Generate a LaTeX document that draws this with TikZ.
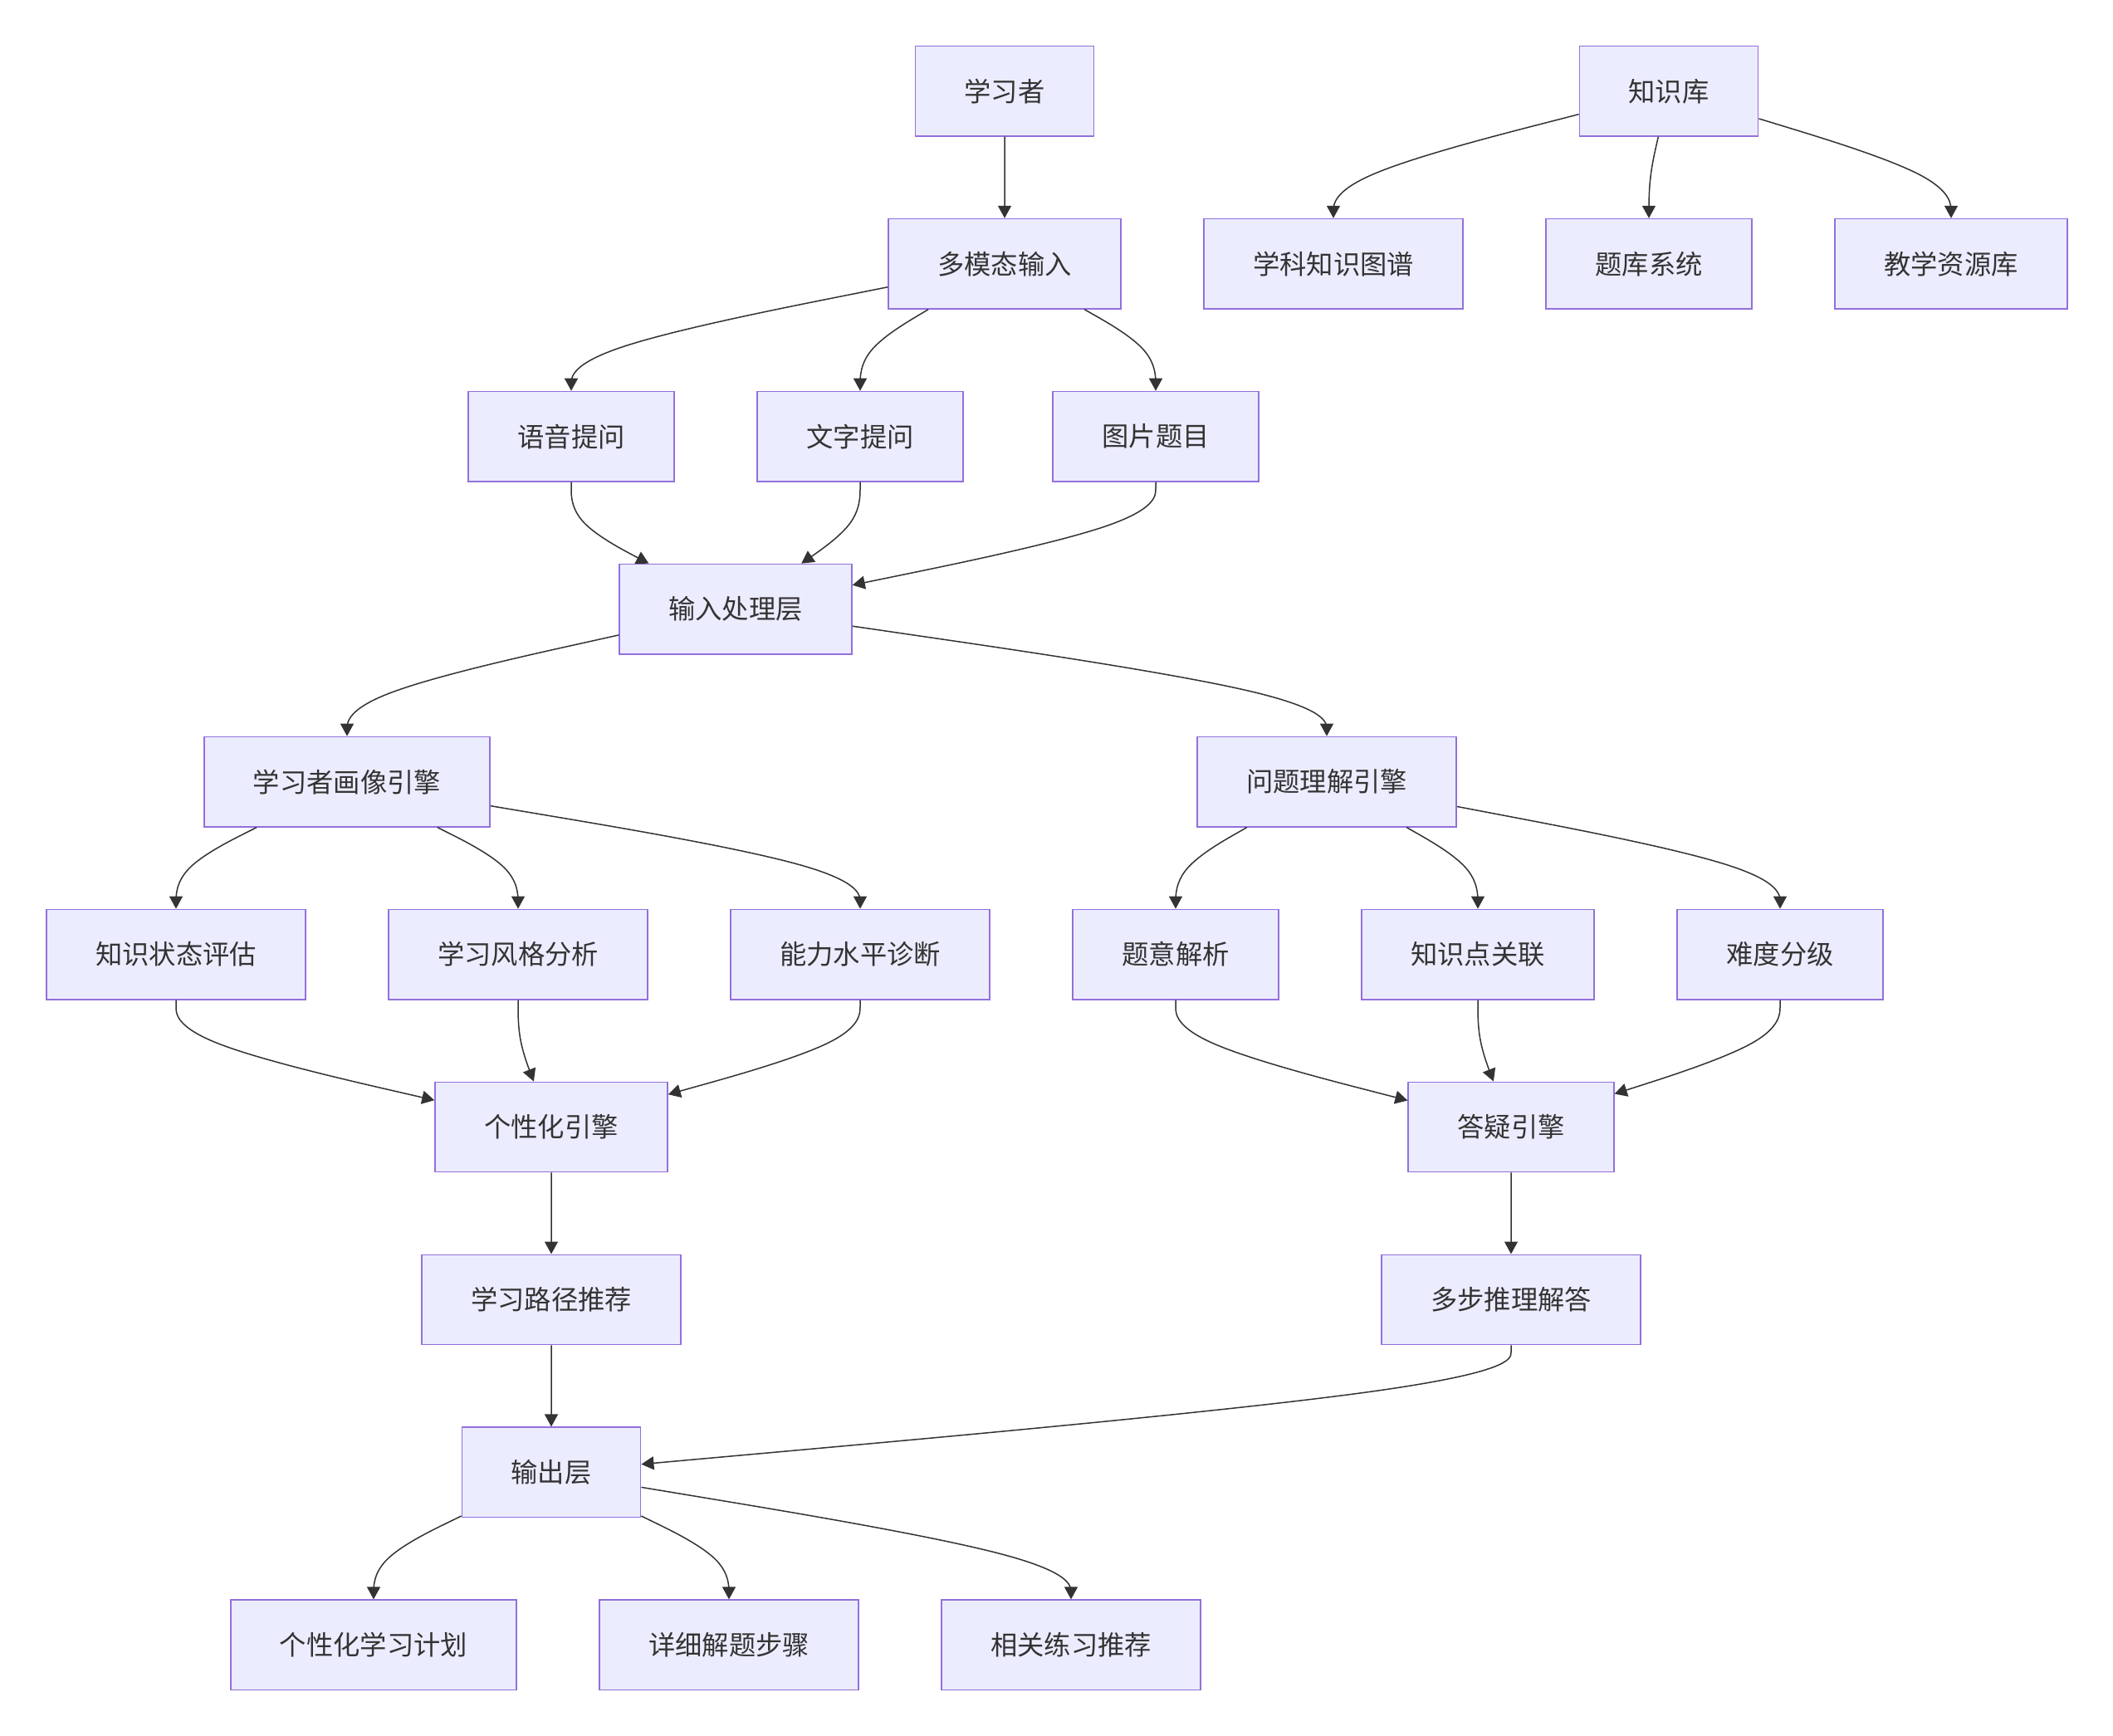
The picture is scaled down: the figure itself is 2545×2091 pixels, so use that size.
\documentclass[tikz,border=0pt]{standalone}
\usepackage{fontspec}
\newfontfamily\cjk{Noto Sans CJK SC}
\usetikzlibrary{arrows.meta,calc}
\definecolor{nodefill}{HTML}{ECECFF}
\definecolor{nodeline}{HTML}{9370DB}
\definecolor{edgecol}{HTML}{333333}
\definecolor{txtcol}{HTML}{333333}
\tikzset{
  box/.style={draw=nodeline, fill=nodefill, line width=0.8pt, minimum height=54.15pt,
    inner xsep=29.6pt, inner ysep=0pt, text=txtcol,
    font=\cjk\fontsize{16.15pt}{19pt}\selectfont},
  link/.style={draw=edgecol, line width=0.75pt, -{Triangle[length=7.5pt,width=8pt]}},
}
\newcommand\drawbasis[2]{%
  \path (q) -- (#1) coordinate[pos=1] (p0);
  \path (q) -- (#2) coordinate[pos=1] (p2);
  \draw[link] (p0) -- ($0.8333333*(p0)+0.1666667*(q)$)
    .. controls ($0.6666667*(p0)+0.3333333*(q)$) and ($0.3333333*(p0)+0.6666667*(q)$)
    .. ($0.1666667*(p0)+0.6666667*(q)+0.1666667*(p2)$)
    .. controls ($0.6666667*(q)+0.3333333*(p2)$) and ($0.3333333*(q)+0.6666667*(p2)$)
    .. ($0.1666667*(q)+0.8333333*(p2)$) -- (p2);
}
\newcommand\fanout[2]{%
  \path ($(#1)!0.5!(#2)$) coordinate (m);
  \path (#2 |- m) coordinate (q);
  \drawbasis{#1}{#2}%
}
\newcommand\fanin[2]{%
  \path ($(#1)!0.5!(#2)$) coordinate (m);
  \path (#1 |- m) coordinate (q);
  \drawbasis{#1}{#2}%
}
\begin{document}
\begin{tikzpicture}[x=0.5pt,y=-0.5pt]
\useasboundingbox (0,0) rectangle (2545,2091);
\node[box] (learner) at (1210,109.8) {学习者};
\node[box] (kb) at (2010,109.8) {知识库};
\node[box] (mm) at (1210,317.75) {多模态输入};
\node[box] (kg) at (1606,317.75) {学科知识图谱};
\node[box] (qbank) at (1986,317.75) {题库系统};
\node[box] (res) at (2350,317.75) {教学资源库};
\node[box] (voice) at (688,525.7) {语音提问};
\node[box] (textq) at (1036,525.7) {文字提问};
\node[box] (img) at (1392,525.7) {图片题目};
\node[box] (inproc) at (886,733.65) {输入处理层};
\node[box] (profile) at (418,941.6) {学习者画像引擎};
\node[box] (understand) at (1598,941.6) {问题理解引擎};
\node[box] (kstate) at (212,1149.55) {知识状态评估};
\node[box] (lstyle) at (624,1149.55) {学习风格分析};
\node[box] (ability) at (1036,1149.55) {能力水平诊断};
\node[box] (meaning) at (1416,1149.55) {题意解析};
\node[box] (kpoint) at (1780,1149.55) {知识点关联};
\node[box] (diffc) at (2144,1149.55) {难度分级};
\node[box] (pers) at (664,1357.5) {个性化引擎};
\node[box] (qa) at (1820,1357.5) {答疑引擎};
\node[box] (lpath) at (664,1565.45) {学习路径推荐};
\node[box] (reason) at (1820,1565.45) {多步推理解答};
\node[box] (outl) at (664,1773.4) {输出层};
\node[box] (plan) at (450,1981.35) {个性化学习计划};
\node[box] (steps) at (878,1981.35) {详细解题步骤};
\node[box] (practice) at (1290,1981.35) {相关练习推荐};

\fanout{learner}{mm}
\fanout{kb}{kg}
\fanout{kb}{qbank}
\fanout{kb}{res}
\fanout{mm}{voice}
\fanout{mm}{textq}
\fanout{mm}{img}
\fanin{voice}{inproc}
\fanin{textq}{inproc}
\fanin{img}{inproc}
\fanout{inproc}{profile}
\fanout{inproc}{understand}
\fanout{profile}{kstate}
\fanout{profile}{lstyle}
\fanout{profile}{ability}
\fanout{understand}{meaning}
\fanout{understand}{kpoint}
\fanout{understand}{diffc}
\fanin{kstate}{pers}
\fanin{lstyle}{pers}
\fanin{ability}{pers}
\fanin{meaning}{qa}
\fanin{kpoint}{qa}
\fanin{diffc}{qa}
\fanout{pers}{lpath}
\fanout{qa}{reason}
\fanin{lpath}{outl}
\fanin{reason}{outl}
\fanout{outl}{plan}
\fanout{outl}{steps}
\fanout{outl}{practice}
\end{tikzpicture}
\end{document}
